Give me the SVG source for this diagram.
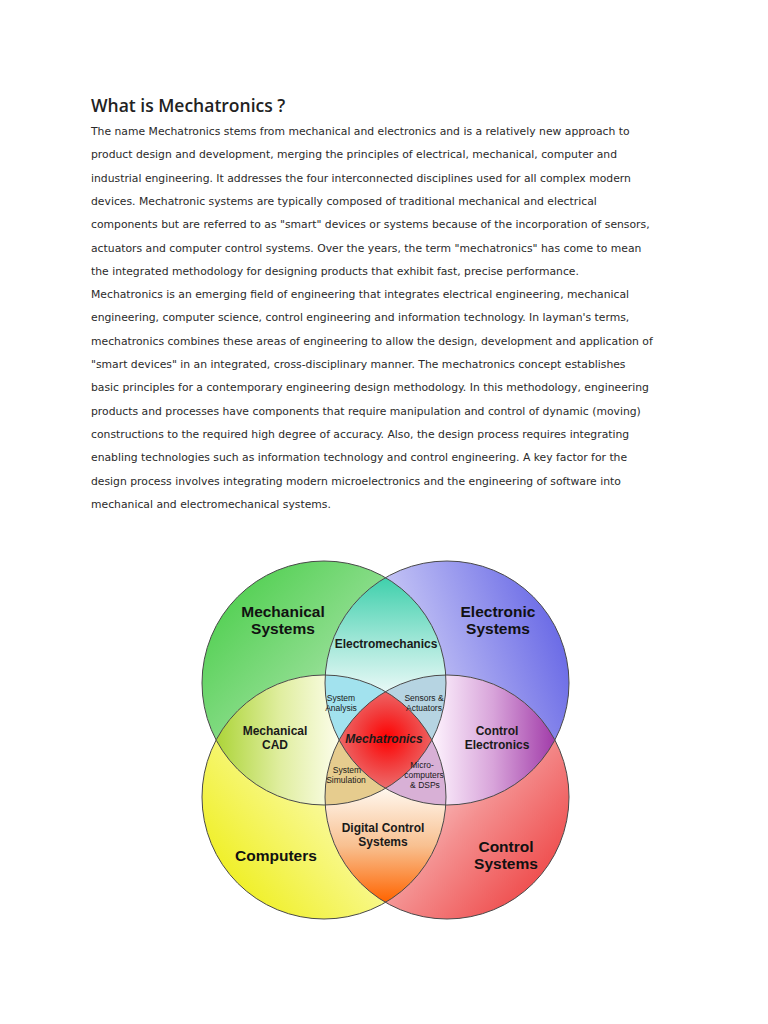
<svg xmlns="http://www.w3.org/2000/svg" width="768" height="1024" viewBox="0 0 768 1024">
<style>
.body{font-family:"DejaVu Sans",sans-serif;font-size:10.8px;fill:#2a2a2a}
.title{font-family:"Open Sans","DejaVu Sans",sans-serif;font-size:17.5px;font-weight:600;fill:#222}
.big{font-family:"Liberation Sans",Arial,sans-serif;font-size:15.5px;font-weight:bold;fill:#111;text-anchor:middle}
.mid{font-family:"Liberation Sans",Arial,sans-serif;font-size:12px;font-weight:bold;fill:#1a1a1a;text-anchor:middle}
.sm{font-family:"Liberation Sans",Arial,sans-serif;font-size:8.5px;fill:#1a1a1a;text-anchor:middle}
.ring{fill:none;stroke:#4a4a4a;stroke-width:1}
</style>
<defs>
<clipPath id="c1"><circle cx="324" cy="683" r="122"/></clipPath>
<clipPath id="c2"><circle cx="447" cy="683" r="122"/></clipPath>
<clipPath id="c3"><circle cx="324" cy="797" r="122"/></clipPath>
<clipPath id="c4"><circle cx="447" cy="797" r="122"/></clipPath>
<linearGradient id="gGreen" gradientUnits="userSpaceOnUse" x1="225" y1="590" x2="420" y2="770"><stop offset="0" stop-color="#52d052"/><stop offset="0.45" stop-color="#8ddd8d"/><stop offset="1" stop-color="#f2fff2"/></linearGradient>
<linearGradient id="gPurple" gradientUnits="userSpaceOnUse" x1="565" y1="640" x2="340" y2="720"><stop offset="0" stop-color="#6a6ae6"/><stop offset="0.5" stop-color="#b2b2f2"/><stop offset="1" stop-color="#f6f4ff"/></linearGradient>
<linearGradient id="gYellow" gradientUnits="userSpaceOnUse" x1="215" y1="890" x2="410" y2="730"><stop offset="0" stop-color="#eeee18"/><stop offset="0.5" stop-color="#f8f88a"/><stop offset="1" stop-color="#fffff4"/></linearGradient>
<linearGradient id="gRed" gradientUnits="userSpaceOnUse" x1="560" y1="890" x2="390" y2="740"><stop offset="0" stop-color="#ee4040"/><stop offset="0.5" stop-color="#f49090"/><stop offset="1" stop-color="#fff0f0"/></linearGradient>
<linearGradient id="gEM" gradientUnits="userSpaceOnUse" x1="0" y1="578" x2="0" y2="700"><stop offset="0" stop-color="#40d0ac"/><stop offset="0.55" stop-color="#a6e8da"/><stop offset="1" stop-color="#f2fbfb"/></linearGradient>
<linearGradient id="gCAD" gradientUnits="userSpaceOnUse" x1="216" y1="0" x2="345" y2="0"><stop offset="0" stop-color="#acd438"/><stop offset="0.5" stop-color="#e0eea0"/><stop offset="1" stop-color="#fffff2"/></linearGradient>
<linearGradient id="gCE" gradientUnits="userSpaceOnUse" x1="556" y1="0" x2="430" y2="0"><stop offset="0" stop-color="#a03aa8"/><stop offset="0.5" stop-color="#d8a4da"/><stop offset="1" stop-color="#fff6ff"/></linearGradient>
<linearGradient id="gDC" gradientUnits="userSpaceOnUse" x1="0" y1="902" x2="0" y2="790"><stop offset="0" stop-color="#ff6400"/><stop offset="0.5" stop-color="#f8c090"/><stop offset="1" stop-color="#fff6ec"/></linearGradient>
<radialGradient id="gMT" gradientUnits="userSpaceOnUse" cx="387" cy="738" r="52"><stop offset="0" stop-color="#ff0000"/><stop offset="0.5" stop-color="#f23a3a"/><stop offset="1" stop-color="#ec7070"/></radialGradient>
</defs>
<g id="text">
<text class="title" x="91" y="112">What is Mechatronics ?</text>
<text class="body" x="91" y="135">The name Mechatronics stems from mechanical and electronics and is a relatively new approach to</text>
<text class="body" x="91" y="158.3">product design and development, merging the principles of electrical, mechanical, computer and</text>
<text class="body" x="91" y="181.6">industrial engineering. It addresses the four interconnected disciplines used for all complex modern</text>
<text class="body" x="91" y="204.9">devices. Mechatronic systems are typically composed of traditional mechanical and electrical</text>
<text class="body" x="91" y="228.2">components but are referred to as "smart" devices or systems because of the incorporation of sensors,</text>
<text class="body" x="91" y="251.5">actuators and computer control systems. Over the years, the term "mechatronics" has come to mean</text>
<text class="body" x="91" y="274.8">the integrated methodology for designing products that exhibit fast, precise performance.</text>
<text class="body" x="91" y="298.1">Mechatronics is an emerging field of engineering that integrates electrical engineering, mechanical</text>
<text class="body" x="91" y="321.4">engineering, computer science, control engineering and information technology. In layman's terms,</text>
<text class="body" x="91" y="344.7">mechatronics combines these areas of engineering to allow the design, development and application of</text>
<text class="body" x="91" y="368">"smart devices" in an integrated, cross-disciplinary manner. The mechatronics concept establishes</text>
<text class="body" x="91" y="391.3">basic principles for a contemporary engineering design methodology. In this methodology, engineering</text>
<text class="body" x="91" y="414.6">products and processes have components that require manipulation and control of dynamic (moving)</text>
<text class="body" x="91" y="437.9">constructions to the required high degree of accuracy. Also, the design process requires integrating</text>
<text class="body" x="91" y="461.2">enabling technologies such as information technology and control engineering. A key factor for the</text>
<text class="body" x="91" y="484.5">design process involves integrating modern microelectronics and the engineering of software into</text>
<text class="body" x="91" y="507.8">mechanical and electromechanical systems.</text>
</g>
<g id="mechanical-systems">
<circle cx="324" cy="683" r="122" fill="url(#gGreen)"/>
</g>
<g id="electronic-systems">
<circle cx="447" cy="683" r="122" fill="url(#gPurple)"/>
</g>
<g id="computers">
<circle cx="324" cy="797" r="122" fill="url(#gYellow)"/>
</g>
<g id="control-systems">
<circle cx="447" cy="797" r="122" fill="url(#gRed)"/>
</g>
<g id="electromechanics" clip-path="url(#c1)"><circle cx="447" cy="683" r="122" fill="url(#gEM)"/></g>
<g id="mechanical-cad" clip-path="url(#c1)"><circle cx="324" cy="797" r="122" fill="url(#gCAD)"/></g>
<g id="control-electronics" clip-path="url(#c2)"><circle cx="447" cy="797" r="122" fill="url(#gCE)"/></g>
<g id="digital-control" clip-path="url(#c3)"><circle cx="447" cy="797" r="122" fill="url(#gDC)"/></g>
<g id="system-analysis" clip-path="url(#c1)"><g clip-path="url(#c2)"><circle cx="324" cy="797" r="122" fill="#a2e2ee"/></g></g>
<g id="sensors-actuators" clip-path="url(#c1)"><g clip-path="url(#c2)"><circle cx="447" cy="797" r="122" fill="#b6d4e2"/></g></g>
<g id="system-simulation" clip-path="url(#c1)"><g clip-path="url(#c3)"><circle cx="447" cy="797" r="122" fill="#e6cc8e"/></g></g>
<g id="micro-computers" clip-path="url(#c2)"><g clip-path="url(#c3)"><circle cx="447" cy="797" r="122" fill="#d8b0d6"/></g></g>
<g id="mechatronics" clip-path="url(#c1)"><g clip-path="url(#c2)"><g clip-path="url(#c3)"><circle cx="447" cy="797" r="122" fill="url(#gMT)"/></g></g></g>
<g id="outlines">
<circle class="ring" cx="324" cy="683" r="122"/>
<circle class="ring" cx="447" cy="683" r="122"/>
<circle class="ring" cx="324" cy="797" r="122"/>
<circle class="ring" cx="447" cy="797" r="122"/>
</g>
<g id="labels">
<text class="big" x="283" y="617">Mechanical</text>
<text class="big" x="283" y="634">Systems</text>
<text class="big" x="498" y="617">Electronic</text>
<text class="big" x="498" y="634">Systems</text>
<text class="big" x="276" y="861">Computers</text>
<text class="big" x="506" y="852">Control</text>
<text class="big" x="506" y="869">Systems</text>
<text class="mid" x="386" y="648">Electromechanics</text>
<text class="mid" x="275" y="735">Mechanical</text>
<text class="mid" x="275" y="749">CAD</text>
<text class="mid" x="497" y="735">Control</text>
<text class="mid" x="497" y="749">Electronics</text>
<text class="mid" x="383" y="832">Digital Control</text>
<text class="mid" x="383" y="846">Systems</text>
<text class="mid" x="384" y="743" font-style="italic">Mechatronics</text>
<text class="sm" x="341" y="701">System</text>
<text class="sm" x="341" y="711">Analysis</text>
<text class="sm" x="424" y="701">Sensors &amp;</text>
<text class="sm" x="424" y="711">Actuators</text>
<text class="sm" x="347" y="773">System</text>
<text class="sm" x="346" y="783">Simulation</text>
<text class="sm" x="422" y="768">Micro-</text>
<text class="sm" x="424" y="778">computers</text>
<text class="sm" x="425" y="788">&amp; DSPs</text>
</g>
</svg>
